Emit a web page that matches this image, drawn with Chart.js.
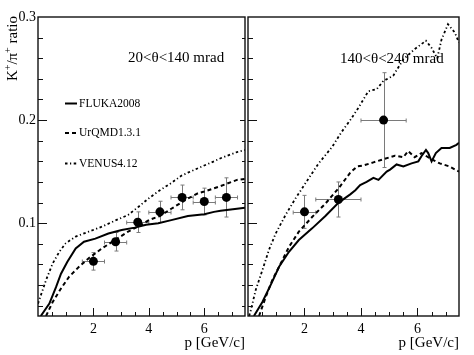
<!DOCTYPE html>
<html><head><meta charset="utf-8">
<script src="https://cdn.jsdelivr.net/npm/chart.js@4.4.0/dist/chart.umd.min.js"></script>
<style>
html,body{margin:0;padding:0;background:#fff;width:474px;height:355px;overflow:hidden}
#wrap{position:relative;width:474px;height:355px;background:#fff}
canvas{position:absolute;top:0}
#c1{left:0}
#c2{left:240px}
</style></head><body>
<div id="wrap"><canvas id="c1" width="250" height="355"></canvas><canvas id="c2" width="234" height="355"></canvas></div>
<script>
// ---------- data ----------
const pMin = 0, pMax = 7.47;
const ratioMin = 0.01, ratioMax = 0.3;
const xTickLabels = [2, 4, 6];
const yTickLabels = [0.1, 0.2, 0.3];
const panelLabels = ['20<θ<140 mrad', '140<θ<240 mrad'];
const seriesNames = ['FLUKA2008', 'UrQMD1.3.1', 'VENUS4.12'];
const xTitle = 'p [GeV/c]';

// measured points, 20<theta<140 mrad
const dataLeftP     = [2.0, 2.8, 3.6, 4.4, 5.2, 6.0, 6.8];
const dataLeftRatio = [0.063, 0.082, 0.101, 0.111, 0.125, 0.121, 0.125];
const dataLeftErr   = [0.0085, 0.009, 0.010, 0.0103, 0.012, 0.013, 0.019];
const dataLeftPErr  = [0.4, 0.4, 0.4, 0.4, 0.4, 0.4, 0.4];
// measured points, 140<theta<240 mrad
const dataRightP     = [2.0, 3.2, 4.8];
const dataRightRatio = [0.111, 0.123, 0.200];
const dataRightErr   = [0.016, 0.017, 0.046];
const dataRightPErr  = [0.4, 0.8, 0.8];

// model curves, left panel
const flukaLeftP = [0.1,0.41,0.65,0.83,1.06,1.36,1.66,2.07,2.54,3.02,3.49,3.9,4.34,4.81,5.41,6.0,6.35,6.59,7.18,7.47];
const flukaLeft  = [0.01,0.022,0.038,0.051,0.0626,0.0756,0.082,0.085,0.090,0.0934,0.0957,0.0985,0.100,0.103,0.107,0.1087,0.111,0.112,0.114,0.115];
const urqmdLeftP = [0.29,0.53,0.83,1.12,1.48,1.83,2.31,2.78,3.25,3.7,4.0,4.4,4.81,5.41,5.77,6.0,6.59,7.18,7.47];
const urqmdLeft  = [0.01,0.0236,0.0367,0.048,0.0577,0.066,0.0756,0.0837,0.0918,0.098,0.103,0.107,0.114,0.124,0.129,0.1307,0.136,0.142,0.143];
const venusLeftP = [0.0,0.29,0.53,0.77,1.0,1.36,1.83,2.31,2.78,3.25,3.63,3.99,4.4,4.81,5.17,5.41,6.0,6.35,6.59,7.18,7.47];
const venusLeft  = [0.022,0.0448,0.061,0.0723,0.0805,0.087,0.0918,0.0967,0.1025,0.108,0.116,0.124,0.132,0.139,0.146,0.149,0.156,0.160,0.163,0.169,0.171];

// model curves, right panel
const flukaRightP = [0.21,0.51,0.8,1.1,1.45,1.8,2.27,2.74,3.21,3.62,3.8,3.97,4.2,4.44,4.62,4.91,5.03,5.26,5.5,5.79,6.03,6.14,6.3,6.38,6.5,6.65,6.85,7.14,7.38,7.47];
const flukaRight  = [0.01,0.0236,0.04,0.0577,0.0723,0.0837,0.095,0.107,0.120,0.128,0.132,0.137,0.140,0.144,0.142,0.150,0.152,0.157,0.155,0.158,0.160,0.165,0.171,0.168,0.160,0.168,0.173,0.173,0.176,0.178];
const urqmdRightP = [0.39,0.63,0.86,1.1,1.45,1.8,2.27,2.74,3.21,3.62,3.86,4.09,4.44,4.79,5.2,5.5,5.67,5.9,6.14,6.5,6.79,7.14,7.47];
const urqmdRight  = [0.01,0.0285,0.0448,0.0577,0.077,0.0918,0.106,0.119,0.134,0.149,0.155,0.156,0.159,0.162,0.1655,0.164,0.170,0.164,0.168,0.162,0.158,0.155,0.150];
const venusRightP = [0.04,0.1,0.27,0.51,0.74,0.98,1.33,1.68,2.04,2.5,2.98,3.3,3.62,3.91,4.26,4.56,4.79,5.14,5.5,5.91,6.3,6.5,6.7,6.85,7.08,7.32,7.47];
const venusRight  = [0.01,0.0155,0.035,0.0545,0.074,0.09,0.108,0.124,0.139,0.158,0.174,0.188,0.2,0.212,0.228,0.23,0.238,0.243,0.259,0.269,0.277,0.27,0.26,0.278,0.293,0.285,0.275];

// ---------- styling ----------
const FONT = '"Liberation Serif", "Times New Roman", serif';
const styles = [
  {borderWidth: 2, borderDash: []},
  {borderWidth: 2, borderDash: [4, 3]},
  {borderWidth: 1.8, borderDash: [2.5, 2.5, 1.2, 2.5]}
];

function pts(px, vy) { return px.map((p, i) => ({x: p, y: vy[i]})); }

const panelCfg = {
  c1: {label: panelLabels[0], labelX: 128, labelY: 58, yTitle: true, legend: true, rightTicksOut: true,
       p: dataLeftP, v: dataLeftRatio, e: dataLeftErr, pe: dataLeftPErr},
  c2: {label: panelLabels[1], labelX: 100, labelY: 59, yTitle: false, legend: false, rightTicksOut: false,
       p: dataRightP, v: dataRightRatio, e: dataRightErr, pe: dataRightPErr}
};

function line(ctx, x1, y1, x2, y2) { ctx.beginPath(); ctx.moveTo(x1, y1); ctx.lineTo(x2, y2); ctx.stroke(); }

const panelPlugin = {
  id: 'panelDecor',
  beforeDatasetsDraw(chart) {
    const cfg = panelCfg[chart.canvas.id];
    const ctx = chart.ctx, xs = chart.scales.x, ys = chart.scales.y;
    ctx.save();
    ctx.strokeStyle = '#7a7a7a';
    ctx.lineWidth = 1;
    cfg.p.forEach((p, i) => {
      const x = Math.round(xs.getPixelForValue(p)) + 0.5;
      const y = Math.round(ys.getPixelForValue(cfg.v[i])) + 0.5;
      const x1 = xs.getPixelForValue(p - cfg.pe[i]), x2 = xs.getPixelForValue(p + cfg.pe[i]);
      const y1 = ys.getPixelForValue(cfg.v[i] + cfg.e[i]), y2 = ys.getPixelForValue(cfg.v[i] - cfg.e[i]);
      line(ctx, x1, y, x2, y);
      line(ctx, x, y1, x, y2);
      line(ctx, x1, y - 2, x1, y + 2);
      line(ctx, x2, y - 2, x2, y + 2);
      line(ctx, x - 2, y1, x + 2, y1);
      line(ctx, x - 2, y2, x + 2, y2);
    });
    ctx.restore();
  },
  afterDraw(chart) {
    const cfg = panelCfg[chart.canvas.id];
    const ctx = chart.ctx, xs = chart.scales.x, ys = chart.scales.y, a = chart.chartArea;
    ctx.save();
    ctx.strokeStyle = '#111';
    ctx.lineWidth = 1.4;
    ctx.strokeRect(a.left, a.top, a.right - a.left, a.bottom - a.top);
    ctx.lineWidth = 1;
    // x ticks (inward)
    for (let k = 1; k * 0.5 < pMax; k++) {
      const p = k * 0.5;
      const x = Math.round(xs.getPixelForValue(p)) + 0.5;
      const len = (k % 4 === 0) ? 8 : 4;
      line(ctx, x, a.bottom, x, a.bottom - len);
    }
    // y ticks
    for (let k = 1; k <= 14; k++) {
      const v = k * 0.02;
      const y = Math.round(ys.getPixelForValue(v)) + 0.5;
      const major = (k % 5 === 0);
      line(ctx, a.left, y, a.left + (major ? 9 : 5), y);
      if (cfg.rightTicksOut) line(ctx, a.right, y, a.right - (major ? 5 : 3), y);
    }
    ctx.fillStyle = '#000';
    // panel label
    ctx.font = '15px ' + FONT;
    ctx.textAlign = 'left';
    ctx.textBaseline = 'middle';
    ctx.fillText(cfg.label, cfg.labelX, cfg.labelY);
    // x title
    ctx.textAlign = 'right';
    ctx.fillText(xTitle, a.right, 343);
    // y title
    if (cfg.yTitle) {
      ctx.save();
      ctx.translate(17, 16);
      ctx.rotate(-Math.PI / 2);
      ctx.textAlign = 'left';
      ctx.textBaseline = 'alphabetic';
      const segs = [['K', 15, 0], ['+', 10, -6], ['/π', 15, 0], ['+', 10, -6], [' ratio', 15, 0]];
      let total = 0;
      segs.forEach(s => { ctx.font = s[1] + 'px ' + FONT; total += ctx.measureText(s[0]).width; });
      let x = -total;
      segs.forEach(s => { ctx.font = s[1] + 'px ' + FONT; ctx.fillText(s[0], x, s[2]); x += ctx.measureText(s[0]).width; });
      ctx.restore();
    }
    // legend
    if (cfg.legend) {
      const ly = [103.5, 133, 163.5];
      ctx.font = '11.5px ' + FONT;
      ctx.textAlign = 'left';
      ctx.textBaseline = 'middle';
      seriesNames.forEach((n, i) => {
        ctx.save();
        ctx.strokeStyle = '#000';
        ctx.lineWidth = styles[i].borderWidth;
        ctx.setLineDash(styles[i].borderDash);
        line(ctx, 65, ly[i], 77, ly[i]);
        ctx.restore();
        ctx.fillText(n, 79, ly[i]);
      });
    }
    ctx.restore();
  }
};

function makeChart(id, curves, points, showYLabels, padRight, yWidth) {
  const datasets = [
    {type: 'scatter', label: 'data', data: points, order: 0, pointRadius: 4.5, pointHoverRadius: 4.5,
     backgroundColor: '#000', borderColor: '#000', pointBorderWidth: 0, showLine: false}
  ];
  curves.forEach((c, i) => {
    datasets.push({type: 'line', label: seriesNames[i], data: c, order: 1 + i, borderColor: '#000',
      borderWidth: styles[i].borderWidth, borderDash: styles[i].borderDash, pointRadius: 0, fill: false, tension: 0});
  });
  return new Chart(document.getElementById(id), {
    type: 'scatter',
    data: {datasets},
    options: {
      responsive: false, animation: false, devicePixelRatio: 1,
      layout: {padding: {left: 0, top: 17, right: padRight, bottom: 0}},
      plugins: {legend: {display: false}, tooltip: {enabled: false}},
      scales: {
        x: {type: 'linear', min: pMin, max: pMax, position: 'bottom',
            grid: {display: false, drawTicks: false}, border: {display: false},
            ticks: {stepSize: 0.5, autoSkip: false, maxRotation: 0, padding: 5, color: '#000',
                    font: {family: FONT, size: 14},
                    callback: v => xTickLabels.some(t => Math.abs(t - v) < 1e-6) ? String(Math.round(v)) : ''},
            afterFit: s => { s.height = 39; }},
        y: {type: 'linear', min: ratioMin, max: ratioMax, position: 'left',
            grid: {display: false, drawTicks: false}, border: {display: false},
            ticks: {display: showYLabels, stepSize: 0.02, autoSkip: false, padding: 2, color: '#000',
                    font: {family: FONT, size: 14},
                    callback: v => yTickLabels.some(t => Math.abs(t - v) < 1e-6) ? v.toFixed(1) : ''},
            afterFit: s => { s.width = yWidth; }}
      }
    },
    plugins: [panelPlugin]
  });
}

makeChart('c1',
  [pts(flukaLeftP, flukaLeft), pts(urqmdLeftP, urqmdLeft), pts(venusLeftP, venusLeft)],
  pts(dataLeftP, dataLeftRatio), true, 2, 38);
makeChart('c2',
  [pts(flukaRightP, flukaRight), pts(urqmdRightP, urqmdRight), pts(venusRightP, venusRight)],
  pts(dataRightP, dataRightRatio), false, 15, 8);
</script>
</body></html>
